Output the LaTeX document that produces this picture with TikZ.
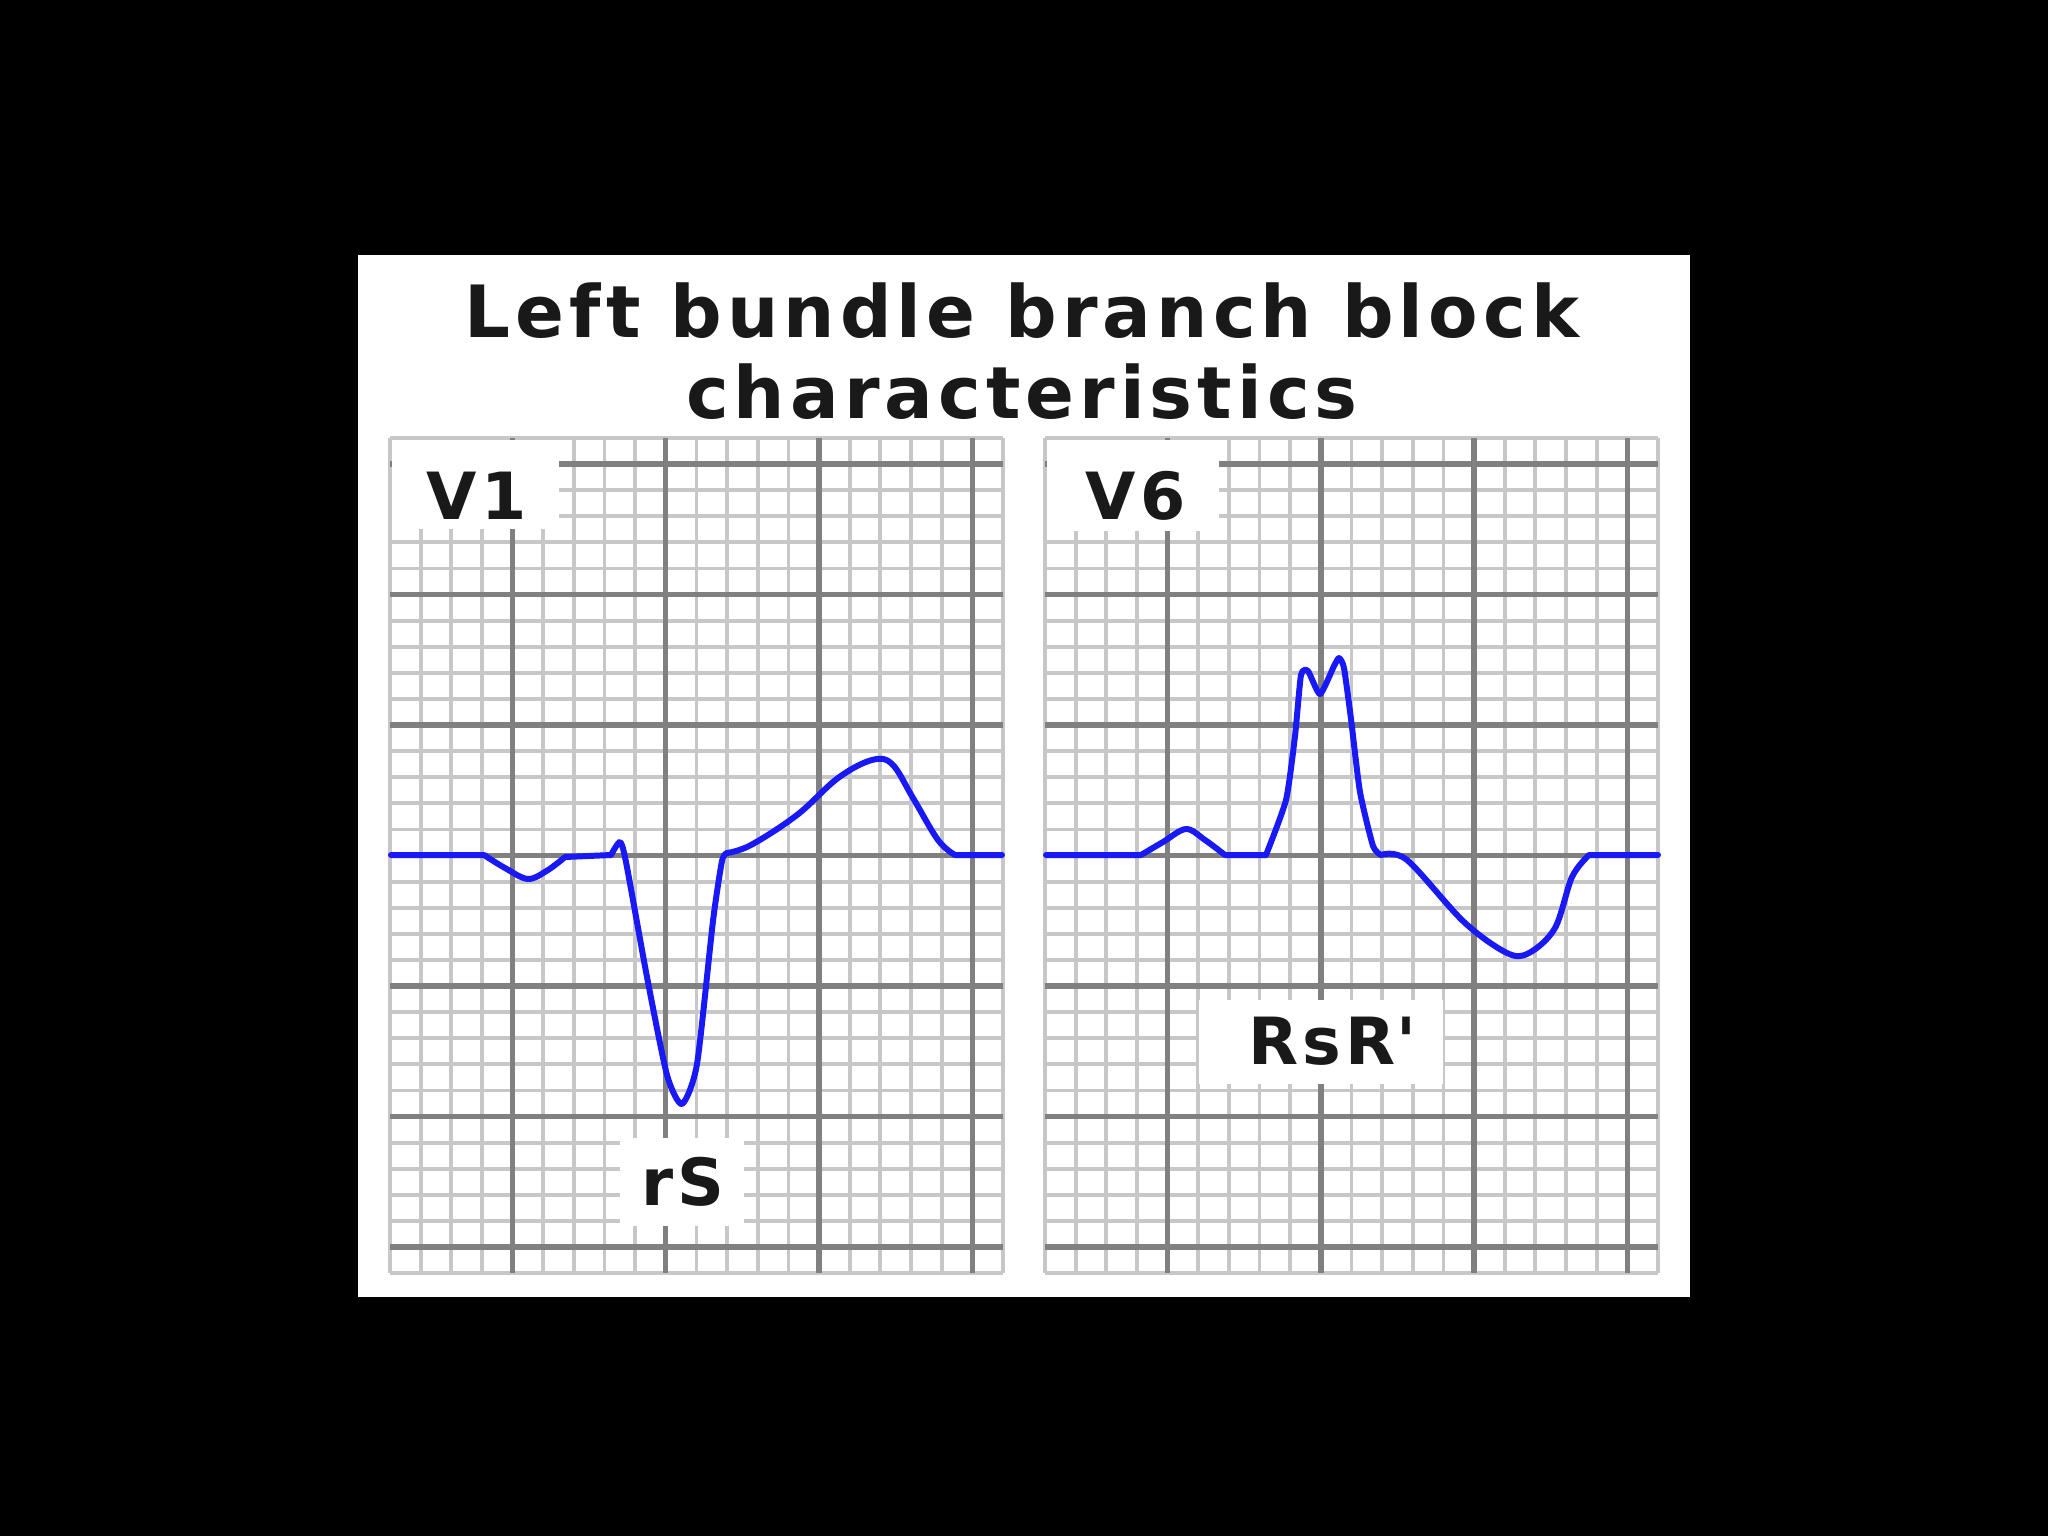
\documentclass[tikz,border=0pt]{standalone}
\usepackage{fontspec}
\setmainfont{DejaVu Sans}
\newfontfamily\widebold[LetterSpace=7]{DejaVu Sans}
\tikzset{
  minorline/.style={draw=black!22, line width=1.1pt},
  majorline/.style={draw=black!50, line width=1.5pt},
  trace/.style={draw={rgb,255:red,25;green,25;blue,245}, line width=1.7pt, line join=round, line cap=round},
  ttl/.style={font=\widebold\bfseries\fontsize{20.5}{24}\selectfont, text=black!90},
  lbl/.style={font=\widebold\bfseries\fontsize{18.5}{22}\selectfont, text=black!90, inner sep=0pt},
}
\newcommand\ecggrid[1]{%
  \foreach \i in {0,...,20} \draw[minorline] ({#1+\i*30.65},438) -- ({#1+\i*30.65},1273);
  \foreach \j in {0,...,32} \draw[minorline] (#1,{438+\j*26.1}) -- ({#1+613},{438+\j*26.1});
  \foreach \i in {4,9,14,19} \draw[majorline] ({#1+\i*30.65},438) -- ({#1+\i*30.65},1273);
  \foreach \j in {1,6,11,16,21,26,31} \draw[majorline] (#1,{438+\j*26.1}) -- ({#1+613},{438+\j*26.1});
}
\begin{document}
\begin{tikzpicture}[x=0.01cm,y=-0.01cm]
\fill[black] (0,0) rectangle (2048,1536);
\useasboundingbox (0,0) rectangle (2048,1536);
\fill[white] (358,255) rectangle (1690,1297);
\node[ttl] (t1) at (1022,311) {Left bundle branch block};
\node[ttl] (t2) at (1022,392) {characteristics};
\ecggrid{390}
\ecggrid{1045}
% label boxes
\fill[white] (392,440) rectangle (559,529);
\fill[white] (1047,440) rectangle (1219,531);
\fill[white] (620,1138) rectangle (744,1226);
\fill[white] (1199,1000) rectangle (1443,1084);
\node[lbl] (v1) at (477,496) {V1};
\node[lbl] (v6) at (1136,496) {V6};
\node[lbl] (rs) at (683,1182) {rS};
\node[lbl] (rsr) at (1332,1041) {RsR\textquotesingle};
% V1 trace
\draw[trace] (391,855) -- (484,855)
  plot[smooth, tension=0.55] coordinates {(484,855) (505,868) (528,879) (548,870) (565,857)}
  -- (611,855)
  plot[smooth, tension=0.4] coordinates {(611,855) (620,842) (626,862) (647,977) (667,1075) (682,1104) (697,1064) (713,921) (722,861) (727,853)}
  plot[smooth, tension=0.6] coordinates {(727,853) (751,845) (797,815) (838,778) (872,760) (892,764) (913,798) (938,840) (955,855)}
  -- (1002,855);
% V6 trace
\draw[trace] (1046,855) -- (1141,855)
  plot[smooth, tension=0.55] coordinates {(1141,855) (1163,842) (1186,829) (1205,840) (1225,855)}
  -- (1266,855)
  plot[smooth, tension=0.35] coordinates {(1266,855) (1286,800) (1295,736) (1301,675) (1308,671) (1320,694) (1334,666) (1339,658) (1344,668) (1351,719) (1360,792) (1373,846) (1381,855)}
  plot[smooth, tension=0.55] coordinates {(1381,855) (1407,860) (1464,922) (1507,953) (1529,953) (1555,928) (1572,877) (1589,855)}
  -- (1658,855);
\end{tikzpicture}
\end{document}
